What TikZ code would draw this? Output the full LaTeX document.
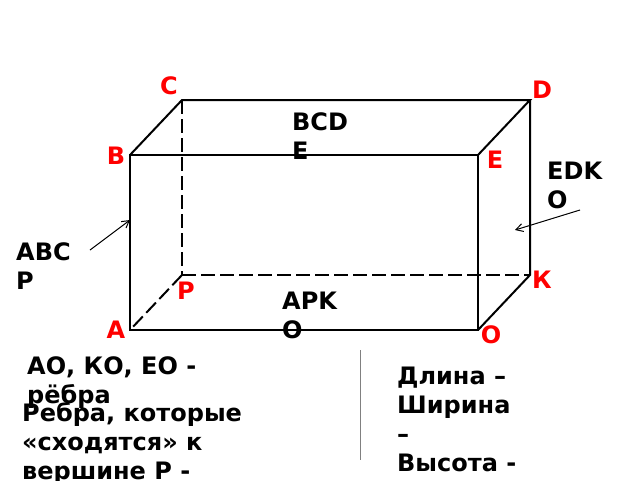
\documentclass[tikz,border=0pt]{standalone}
\usepackage{fontspec}
\setmainfont{DejaVu Sans}
\usetikzlibrary{arrows.meta}
\begin{document}
\begin{tikzpicture}[x=1pt,y=-1pt,
  edge/.style={line width=2pt},
  hidden/.style={line width=2pt,dash pattern=on 14pt off 5pt},
  vlabel/.style={text=red,font=\fontsize{24}{28}\selectfont\bfseries,inner sep=0pt},
  face/.style={font=\fontsize{24}{29}\selectfont\bfseries,align=left,anchor=north west,inner sep=0pt},
  note/.style={font=\fontsize{24}{29}\selectfont\bfseries,align=left,anchor=north west,inner sep=0pt},
  pointer/.style={line width=1pt,-{Straight Barb[length=7pt,width=8pt]}}]
\useasboundingbox (0,0) rectangle (640,480);
\clip (0,0) rectangle (640,480);

% vertices
\coordinate (B) at (130,155);
\coordinate (E) at (478,155);
\coordinate (O) at (478,330);
\coordinate (A) at (130,330);
\coordinate (C) at (182,100);
\coordinate (D) at (530,100);
\coordinate (K) at (530,275);
\coordinate (P) at (182,275);

% visible edges
\draw[edge] (A) -- (B) -- (E) -- (O) -- cycle;
\draw[edge] (B) -- (C) -- (D) -- (E);
\draw[edge] (D) -- (K) -- (O);
% hidden edges
\draw[hidden] (C) -- (P);
\draw[hidden] (P) -- (K);
\draw[hidden] (P) -- (A);

% vertex labels
\node[vlabel] (lc) at (169,86) {С};
\node[vlabel] (ld) at (542,90) {D};
\node[vlabel] (lb) at (116,156) {В};
\node[vlabel] (le) at (495,160) {Е};
\node[vlabel] (lk) at (542,280) {К};
\node[vlabel] (lp) at (186,291) {Р};
\node[vlabel] (la) at (116,330) {А};
\node[vlabel] (lo) at (491,335) {О};

% face names
\node[face] (top) at (292,112) {BCD\\E};
\node[face] (right) at (547,162) {EDK\\O};
\node[face] (left) at (16,242) {ABC\\P};
\node[face] (bottom) at (282,292) {APK\\O};

% arrows
\coordinate (a1) at (90,250);
\coordinate (a2) at (130,220);
\coordinate (b1) at (580,210);
\coordinate (b2) at (515,230);
\draw[pointer] (a1) -- (a2);
\draw[pointer] (b1) -- (b2);

% divider
\draw[gray] (360,350) -- (360,460);

% notes
\node[note] (edges) at (27,356) {АО, КО, ЕО -\\ рёбра};
\node[note] (vertex) at (22,402) {Ребра, которые\\«сходятся» к\\вершине Р -};
\node[note] (dims) at (397,367) {Длина –\\Ширина\\–\\Высота -};
\end{tikzpicture}
\end{document}
